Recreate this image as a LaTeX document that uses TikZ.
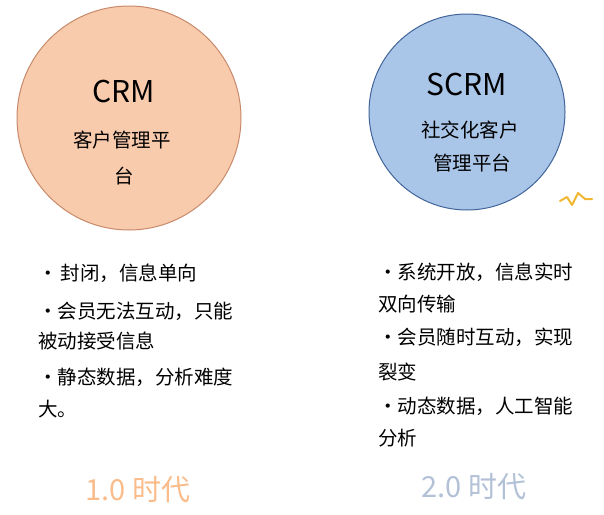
\documentclass[tikz,border=0pt]{standalone}
\usepackage{fontspec}
\setmainfont{Noto Sans CJK SC}
\begin{document}
\begin{tikzpicture}[x=1pt,y=-1pt,
  txt/.style={anchor=west,font=\fontsize{19.5}{22}\selectfont,inner sep=0pt},
  ctr/.style={font=\fontsize{19.5}{22}\selectfont,inner sep=0pt}]
\useasboundingbox (0,0) rectangle (604,514);
\definecolor{peach}{HTML}{F8CBAD}\definecolor{peachline}{HTML}{C88A6A}
\definecolor{sky}{HTML}{A9C5E8}\definecolor{skyline}{HTML}{41649A}
\definecolor{gold}{HTML}{F2B630}
\node[circle,draw=peachline,line width=1pt,fill=peach,minimum size=224pt] (c1) at (129,118) {};
\node[circle,draw=skyline,line width=1pt,fill=sky,minimum size=196pt] (c2) at (467,112) {};
\node[font=\fontsize{30}{32}\selectfont,inner sep=0pt] (t1) at (124,92) {CRM};
\node[ctr] (t1a) at (122,140) {客户管理平};
\node[ctr] (t1b) at (124,176) {台};
\node[font=\fontsize{30}{32}\selectfont,inner sep=0pt] (t2) at (467,85) {SCRM};
\node[ctr] (t2a) at (470,130) {社交化客户};
\node[ctr] (t2b) at (472,163) {管理平台};
\draw[color=gold,line width=2pt,line join=round,line cap=round] (560,201)--(567,197)--(572,205)--(578,193)--(585,199)--(592,199);
\node[txt] (l1) at (38,273) {•\,封闭，信息单向};
\node[txt] (l2) at (38,311) {•会员无法互动，只能};
\node[txt] (l3) at (38,341) {被动接受信息};
\node[txt] (l4) at (38,377) {•静态数据，分析难度};
\node[txt] (l5) at (38,409) {大。};
\node[txt] (r1) at (378,272) {•系统开放，信息实时};
\node[txt] (r2) at (378,304) {双向传输};
\node[txt] (r3) at (378,337) {•会员随时互动，实现};
\node[txt] (r4) at (378,372) {裂变};
\node[txt] (r5) at (378,406) {•动态数据，人工智能};
\node[txt] (r6) at (378,438) {分析};
\node[font=\fontsize{29}{32}\selectfont,text=peach!80!orange,inner sep=0pt] (b1) at (138,490) {1.0 时代};
\node[font=\fontsize{29}{32}\selectfont,text=skyline!40!white,inner sep=0pt] (b2) at (474,487) {2.0 时代};
\end{tikzpicture}
\end{document}
